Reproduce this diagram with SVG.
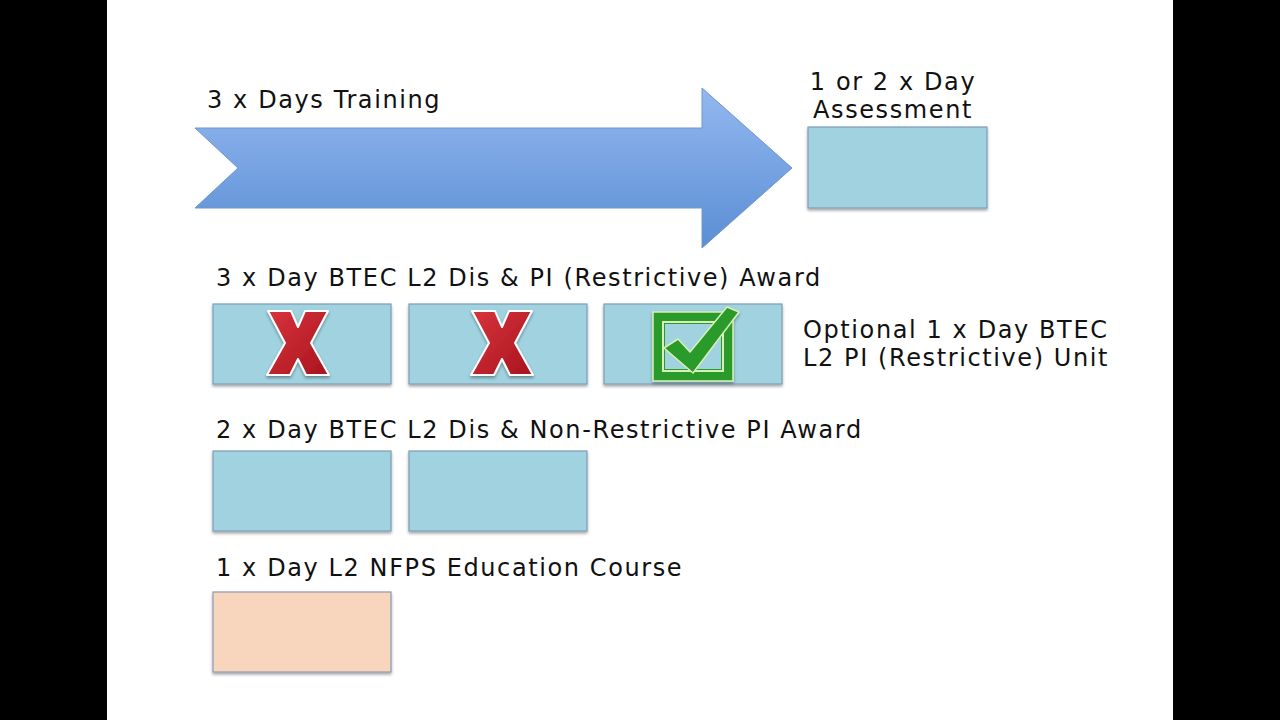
<svg xmlns="http://www.w3.org/2000/svg" width="1280" height="720" viewBox="0 0 1280 720">
<defs>
<linearGradient id="ag" x1="0" y1="0" x2="0" y2="1">
<stop offset="0" stop-color="#93B8F0"/>
<stop offset="1" stop-color="#5A8ED4"/>
</linearGradient>
<linearGradient id="xg" x1="0" y1="0" x2="1" y2="1">
<stop offset="0" stop-color="#D8343C"/>
<stop offset="1" stop-color="#A8141E"/>
</linearGradient>
<filter id="sh" x="-10%" y="-10%" width="130%" height="140%">
<feGaussianBlur in="SourceAlpha" stdDeviation="1.5"/>
<feOffset dx="0" dy="2" result="b"/>
<feFlood flood-color="#000" flood-opacity="0.35"/>
<feComposite in2="b" operator="in"/>
<feMerge><feMergeNode/><feMergeNode in="SourceGraphic"/></feMerge>
</filter>
</defs>
<style>
.t{font-family:"DejaVu Sans",Verdana,sans-serif;font-size:24px;letter-spacing:1.6px;fill:#111}
.b{fill:#A0D2DF;stroke:#7F9DB8;stroke-width:1.2;filter:url(#sh)}
.o{fill:#F8D5BD;stroke:#8E99B0;stroke-width:1.2;filter:url(#sh)}
.x{fill:url(#xg);stroke:#fff;stroke-width:2;stroke-linejoin:round;filter:url(#sh)}
</style>
<rect x="0" y="0" width="1280" height="720" fill="#000"/>
<rect x="107" y="0" width="1066" height="720" fill="#fff"/>

<g id="training">
<path d="M195,128 L702,128 L702,88 L792,168 L702,248 L702,208 L195,208 L238,168 Z" fill="url(#ag)" stroke="#7096CC" stroke-width="1"/>
<text class="t" x="207" y="108">3 x Days Training</text>
</g>

<g id="assessment">
<text class="t" x="893" y="90" text-anchor="middle">1 or 2 x Day</text>
<text class="t" x="893" y="118" text-anchor="middle">Assessment</text>
<rect class="b" x="808" y="127" width="179" height="81"/>
</g>

<g id="award3">
<text class="t" x="216" y="286">3 x Day BTEC L2 Dis &amp; PI (Restrictive) Award</text>
<rect class="b" x="213" y="304" width="178" height="80"/>
<rect class="b" x="409" y="304" width="178" height="80"/>
<rect class="b" x="604" y="304" width="178" height="80"/>
<polygon class="x" points="268,311 291,311 298,327 305,311 328,311 311,343 329,375 306,375 298,359 290,375 267,375 285,343"/>
<polygon class="x" transform="translate(204,0)" points="268,311 291,311 298,327 305,311 328,311 311,343 329,375 306,375 298,359 290,375 267,375 285,343"/>
<g filter="url(#sh)">
<rect x="653" y="312" width="80" height="69" fill="#2B9A2B" stroke="#D8F0B8" stroke-width="1.5"/>
<rect x="663" y="322" width="60" height="49" fill="none" stroke="#D8F0B8" stroke-width="2"/>
<rect x="665" y="324" width="56" height="45" fill="#A0D2DF"/>
<path d="M664,348 L678,339 L690,352 L727,307 L739,312 L693,373 Z" fill="#2A9A2A" stroke="#D8F0B8" stroke-width="1.5" stroke-linejoin="round"/>
</g>
<text class="t" x="803" y="338">Optional 1 x Day BTEC</text>
<text class="t" x="803" y="366">L2 PI (Restrictive) Unit</text>
</g>

<g id="award2">
<text class="t" x="216" y="438">2 x Day BTEC L2 Dis &amp; Non-Restrictive PI Award</text>
<rect class="b" x="213" y="451" width="178" height="80"/>
<rect class="b" x="409" y="451" width="178" height="80"/>
</g>

<g id="nfps">
<text class="t" x="216" y="576">1 x Day L2 NFPS Education Course</text>
<rect class="o" x="213" y="592" width="178" height="80"/>
</g>
<g id="connectors"/>
</svg>
